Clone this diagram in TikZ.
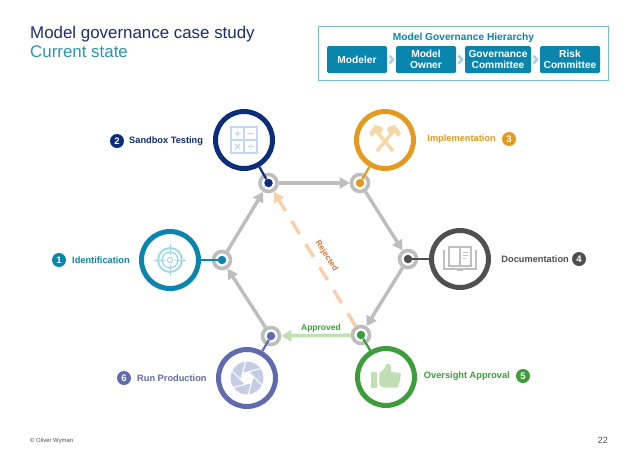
\documentclass[tikz,border=0pt]{standalone}
\usepackage{fontspec}
\setmainfont{Liberation Sans}
\usetikzlibrary{arrows.meta,calc}
\definecolor{navy}{HTML}{0B2D7A}
\definecolor{ttlnavy}{HTML}{1A2F6E}
\definecolor{ttlteal}{HTML}{2B96B0}
\definecolor{teal}{HTML}{0A86AE}
\definecolor{gold}{HTML}{E39A1E}
\definecolor{slate}{HTML}{4F4F4F}
\definecolor{grn}{HTML}{3B9E3A}
\definecolor{purp}{HTML}{5F6BAE}
\definecolor{graya}{HTML}{BDBDBD}
\definecolor{peach}{HTML}{F8CFA8}
\definecolor{rust}{HTML}{D0763A}
\definecolor{lgreen}{HTML}{BFE0B0}
\definecolor{chev}{HTML}{A9CFDD}
\definecolor{lblue}{HTML}{C3D7F3}
\definecolor{lgold}{HTML}{F6D8A6}
\definecolor{lteal}{HTML}{A5D8E6}
\definecolor{lgray}{HTML}{BFBFBF}
\definecolor{lgrn}{HTML}{BFDEB3}
\definecolor{lpurp}{HTML}{C6CCE6}
\tikzset{
 x=1pt,y=-1pt,
 big/.style={circle,draw=#1,line width=5pt,fill=white,minimum size=57pt,inner sep=0pt},
 ring/.style={circle,draw=graya,line width=3.6pt,fill=white,minimum size=17pt,inner sep=0pt},
 hub/.style={circle,fill=#1,minimum size=8.5pt,inner sep=0pt},
 link/.style={line width=2.2pt,draw=#1},
 flow/.style={draw=graya,line width=3.4pt,-{Triangle[length=10pt,width=11pt]}},
 badge/.style={circle,fill=#1,text=white,font=\bfseries\fontsize{9.5}{11}\selectfont,minimum size=14pt,inner sep=0pt},
 steplabel/.style={text=#1,font=\bfseries\fontsize{9.25}{11}\selectfont,inner sep=0pt},
 role/.style={fill=teal,rounded corners=1.5pt,text=white,align=center,font=\bfseries\fontsize{10.2}{11}\selectfont,minimum height=27pt,inner sep=0pt},
 chevron/.style={draw=chev,line width=2.4pt,line join=miter},
}
\begin{document}
\begin{tikzpicture}
\useasboundingbox (0,0) rectangle (638,456);
\fill[white] (0,0) rectangle (638,456);
% title
\node[anchor=west,inner sep=0pt,text=ttlnavy,font=\fontsize{16.9}{18}\selectfont] (title) at (30,34) {Model governance case study};
\node[anchor=west,inner sep=0pt,text=ttlteal,font=\fontsize{16.9}{18}\selectfont] (sub) at (30,52) {Current state};
% hierarchy
\node[draw=teal!55,line width=1pt,minimum width=290pt,minimum height=54pt,inner sep=0pt] (frame) at (463,53) {};
\node[text=teal,font=\bfseries\fontsize{10.2}{11}\selectfont,inner sep=0pt] (hh) at (463.5,37.5) {Model Governance Hierarchy};
\node[role,minimum width=60pt] (r1) at (357,59.5) {Modeler};
\node[role,minimum width=60pt] (r2) at (426,59.5) {Model\\Owner};
\node[role,minimum width=66pt] (r3) at (498,59.5) {Governance\\Committee};
\node[role,minimum width=60pt] (r4) at (570,59.5) {Risk\\Committee};
\draw[chevron] (389.5,55.5) -- (393,59.5) -- (389.5,63.5);
\draw[chevron] (458.5,55.5) -- (462,59.5) -- (458.5,63.5);
\draw[chevron] (533.5,55.5) -- (537,59.5) -- (533.5,63.5);
% rings
\node[ring] (a) at (222,260) {};
\node[ring] (b) at (268.5,183) {};
\node[ring] (c) at (360,183) {};
\node[ring] (d) at (408,259) {};
\node[ring] (e) at (361,335) {};
\node[ring] (f) at (271,336) {};
% flows
\draw[flow] (a) -- (b);
\draw[flow] (b) -- (c);
\draw[flow] (c) -- (d);
\draw[flow] (d) -- (e);
\draw[flow,draw=lgreen] (e) -- (f);
\draw[flow] (f) -- (a);
\draw[draw=peach,line width=3.4pt,dash pattern=on 15pt off 12pt,-{Triangle[length=10pt,width=11pt]}] (e) -- (b);
% big circles and links
\node[big=teal] (n1) at (170,260) {};
\node[big=navy] (n2) at (244,140) {};
\node[big=gold] (n3) at (385,140) {};
\node[big=slate] (n4) at (460,259) {};
\node[big=grn] (n5) at (386,377) {};
\node[big=purp] (n6) at (247,378) {};
\node[hub=teal] (h1) at (a) {};
\node[hub=navy] (h2) at (b) {};
\node[hub=gold] (h3) at (c) {};
\node[hub=slate] (h4) at (d) {};
\node[hub=grn] (h5) at (e) {};
\node[hub=purp] (h6) at (f) {};
\draw[link=teal] (n1) -- (h1);
\draw[link=navy] (n2) -- (h2);
\draw[link=gold] (n3) -- (h3);
\draw[link=slate] (n4) -- (h4);
\draw[link=grn] (n5) -- (h5);
\draw[link=purp] (n6) -- (h6);
% badges and labels
\node[badge=teal] (b1) at (59,260) {1};
\node[steplabel=teal,anchor=west] (l1) at (72,260.5) {Identification};
\node[badge=navy] (b2) at (117,141) {2};
\node[steplabel=navy,anchor=west] (l2) at (129,141) {Sandbox Testing};
\node[badge=gold] (b3) at (509,139) {3};
\node[steplabel=gold,anchor=east] (l3) at (496,139.5) {Implementation};
\node[badge=slate] (b4) at (579,259) {4};
\node[steplabel=slate,anchor=east] (l4) at (569,259.5) {Documentation};
\node[badge=grn] (b5) at (523,376) {5};
\node[steplabel=grn,anchor=east] (l5) at (510,376.5) {Oversight Approval};
\node[badge=purp] (b6) at (124,378) {6};
\node[steplabel=purp,anchor=west] (l6) at (137,378.5) {Run Production};
\node[text=grn,font=\bfseries\fontsize{8.5}{10}\selectfont,inner sep=0pt] (ap) at (321,328) {Approved};
\node[text=rust,font=\bfseries\fontsize{8.2}{10}\selectfont,inner sep=0pt,rotate=-57] (rj) at (326.5,256) {Rejected};
\node[anchor=west,inner sep=0pt,text=slate,font=\fontsize{5.9}{7}\selectfont] (copy) at (30,441) {© Oliver Wyman};
\node[anchor=east,inner sep=0pt,text=slate,font=\fontsize{9}{10}\selectfont] (pg) at (608,440) {22};
% icon 2 calculator
\begin{scope}[shift={(n2.center)}]
\draw[lblue,line width=1.4pt] (-13,-13) rectangle (13,13) (0,-13)--(0,13) (-13,0)--(13,0);
\draw[lblue,line width=1.2pt] (-9.5,-6.5)--(-3.5,-6.5) (-6.5,-9.5)--(-6.5,-3.5) (3.5,-6.5)--(9.5,-6.5)
 (-9,4)--(-4,9) (-9,9)--(-4,4) (3.5,6.5)--(9.5,6.5);
\fill[lblue] (6.5,4) circle (.7) (6.5,9) circle (.7);
\end{scope}
% icon 3 hammers
\begin{scope}[shift={(n3.center)}]
\foreach \s in {1,-1}{
 \begin{scope}[xscale=\s]
 \draw[lgold,line width=3.3pt] (-7,-7) -- (8,11);
 \fill[lgold] (-16,-7) -- (-10,-15) -- (-3,-13) -- (-2,-10) -- (-6,-5) -- (-10,-7) -- (-13,-3) -- cycle;
 \end{scope}}
\end{scope}
% icon 1 target
\begin{scope}[shift={(n1.center)}]
\draw[lteal,line width=2pt] (0,0) circle (12);
\draw[lteal,line width=1.4pt] (0,0) circle (8);
\draw[lteal,line width=1pt] (0,0) circle (2.6);
\draw[lteal,line width=1pt] (-16,0)--(-5,0) (5,0)--(16,0) (0,-16)--(0,-5) (0,5)--(0,16);
\end{scope}
% icon 4 book
\begin{scope}[shift={(n4.center)}]
\draw[lgray,line width=1.3pt] (-11,-12) rectangle (0,7) (0,-12) rectangle (11,7);
\draw[lgray,line width=1.3pt] (-16,-9) -- (-16,10) -- (16,10) -- (16,-9);
\draw[lgray,line width=1.2pt] (-3,11) -- (3,11);
\draw[lgray,line width=1pt] (3,-7)--(8,-7) (3,-4)--(8,-4) (3,-1)--(6,-1);
\end{scope}
% icon 5 thumb
\begin{scope}[shift={(n5.center)}]
\fill[lgrn] (-15,-5) rectangle (-9.3,10.5);
\fill[lgrn,rounded corners=1pt] (-6.7,-4) -- (-1.7,-8.3) -- (.7,-13.3) -- (4,-13.3) -- (5,-9.3) -- (4.7,-5) -- (15,-4) -- (14,3) -- (11.7,10.7) -- (-1.7,10.7) -- (-6.7,8.3) -- cycle;
\end{scope}
% icon 6 shutter
\begin{scope}[shift={(n6.center)}]
\foreach \a in {15,75,...,315}{
 \begin{scope}[rotate=\a]
 \fill[lpurp,draw=white,line width=.9pt] (60:6.5) -- (100.7:17) arc[start angle=100.7,end angle=160.7,radius=17] -- cycle;
 \end{scope}
}
\end{scope}
\end{tikzpicture}
\end{document}
